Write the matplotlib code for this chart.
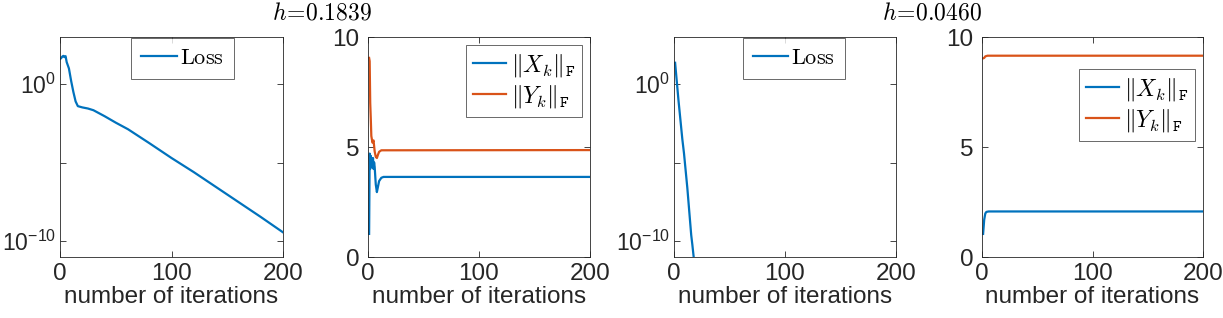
import matplotlib
matplotlib.use("Agg")
import matplotlib.pyplot as plt
import numpy as np

plt.rcParams['font.family'] = ['Liberation Sans', 'DejaVu Sans']
plt.rcParams['mathtext.fontset'] = 'cm'

BLUE = '#0072BD'
ORANGE = '#D95319'
AXC = '#262626'

# h = 0.1839 run
loss1_it = [0, 1, 2, 3, 4, 5, 6, 8, 10, 12, 14, 16, 20, 25, 30, 35, 40, 50, 61,
            80, 100, 120, 140, 160, 180, 200]
loss1_log = [1.6, 1.65, 1.75, 1.8, 1.72, 1.78, 1.4, 1.0, 0.2, -0.5, -1.1, -1.4,
             -1.48, -1.55, -1.66, -1.85, -2.04, -2.45, -2.87, -3.75, -4.7, -5.6,
             -6.55, -7.5, -8.45, -9.43]

y1_it = [1, 1.5, 2, 2.5, 3, 4, 5, 6, 7, 8, 9, 10, 12, 200]
y1_val = [9.05, 8.9, 7.0, 6.3, 5.5, 5.2, 5.3, 4.8, 4.55, 4.5, 4.65, 4.78, 4.85, 4.86]
x1_it = [1, 1.5, 2, 2.5, 3, 3.5, 4, 4.5, 5, 5.5, 6, 7, 8, 9, 10, 12, 14, 200]
x1_val = [1.05, 4.7, 4.0, 4.6, 4.1, 4.5, 4.2, 4.5, 4.0, 4.3, 4.1, 3.3, 2.95, 3.2,
          3.45, 3.6, 3.64, 3.64]

# h = 0.0460 run
loss2_it = [1, 4, 7.5, 9, 12, 15.5, 16.5, 18.5]
loss2_log = [1.36, -1.0, -3.5, -4.4, -6.6, -9.6, -10.2, -11.5]

y2_it = [1, 2, 3, 5, 200]
y2_val = [9.03, 9.05, 9.12, 9.15, 9.15]
x2_it = [1, 2, 3, 4, 6, 200]
x2_val = [1.05, 1.7, 1.98, 2.05, 2.07, 2.07]

titles = ['0.1839', '0.0460']

W, H = 1223, 318
fig = plt.figure(figsize=(W / 100, H / 100), dpi=100)


def make_ax(left_px, width_px, ypad=6, ysize=17.5):
    ax = fig.add_axes([left_px / W, (H - 257) / H, width_px / W, 220 / H])
    ax.tick_params(direction='in', top=True, right=True, colors=AXC,
                   labelsize=17.5, length=4, width=0.6)
    ax.tick_params(axis='x', pad=4)
    ax.tick_params(axis='y', pad=ypad, labelsize=ysize)
    for s in ax.spines.values():
        s.set_color(AXC)
        s.set_linewidth(0.6)
    ax.set_xlim(0, 200)
    ax.set_xticks([0, 100, 200])
    ax.set_xlabel('number of iterations', fontsize=17.5, color=AXC, labelpad=1)
    return ax


def loss_panel(ax, it, lg, lx):
    ax.semilogy(it, 10.0 ** np.array(lg), color=BLUE, lw=1.6, label=r'$\mathrm{Loss}\;$')
    ax.set_ylim(1e-11, 1e3)
    ax.set_yticks([1e-10, 1e-5, 1e0])
    ax.set_yticklabels([r'$\mathregular{10^{-10}}$', '', r'$\mathregular{10^{0}}$'])
    ax.minorticks_off()
    leg = ax.legend(loc='upper center', bbox_to_anchor=(lx, 1.0), fontsize=16,
                    fancybox=False, edgecolor=AXC, handlelength=1.6,
                    borderaxespad=0.05, handletextpad=0.15, borderpad=0.45)
    leg.get_frame().set_linewidth(0.6)


def norm_panel(ax, xi, xv, yi, yv, ly):
    ax.plot(xi, xv, color=BLUE, lw=1.6, label=r'$\|X_k\|_{\mathtt{F}}$')
    ax.plot(yi, yv, color=ORANGE, lw=1.6, label=r'$\|Y_k\|_{\mathtt{F}}$')
    ax.set_ylim(0, 10)
    ax.set_yticks([0, 5, 10])
    leg = ax.legend(loc='upper right', bbox_to_anchor=(0.964, ly), fontsize=17,
                    fancybox=False, edgecolor=AXC, handlelength=1.4,
                    borderaxespad=0, handletextpad=0.2, labelspacing=0.15,
                    borderpad=0.3)
    leg.get_frame().set_linewidth(0.6)


ax1 = make_ax(60, 223, ypad=3, ysize=16.5)
loss_panel(ax1, loss1_it, loss1_log, 0.55)
ax2 = make_ax(368, 222)
norm_panel(ax2, x1_it, x1_val, y1_it, y1_val, 0.964)
ax3 = make_ax(674, 222, ypad=3, ysize=16.5)
loss_panel(ax3, loss2_it, loss2_log, 0.54)
ax4 = make_ax(982, 221)
norm_panel(ax4, x2_it, x2_val, y2_it, y2_val, 0.855)

fig.text(322 / W, 1 - 13 / H, r'$h\!=\!%s$' % titles[0], ha='center', va='center', fontsize=17)
fig.text(932 / W, 1 - 13 / H, r'$h\!=\!%s$' % titles[1], ha='center', va='center', fontsize=17)

fig.savefig('out.png', dpi=100)
